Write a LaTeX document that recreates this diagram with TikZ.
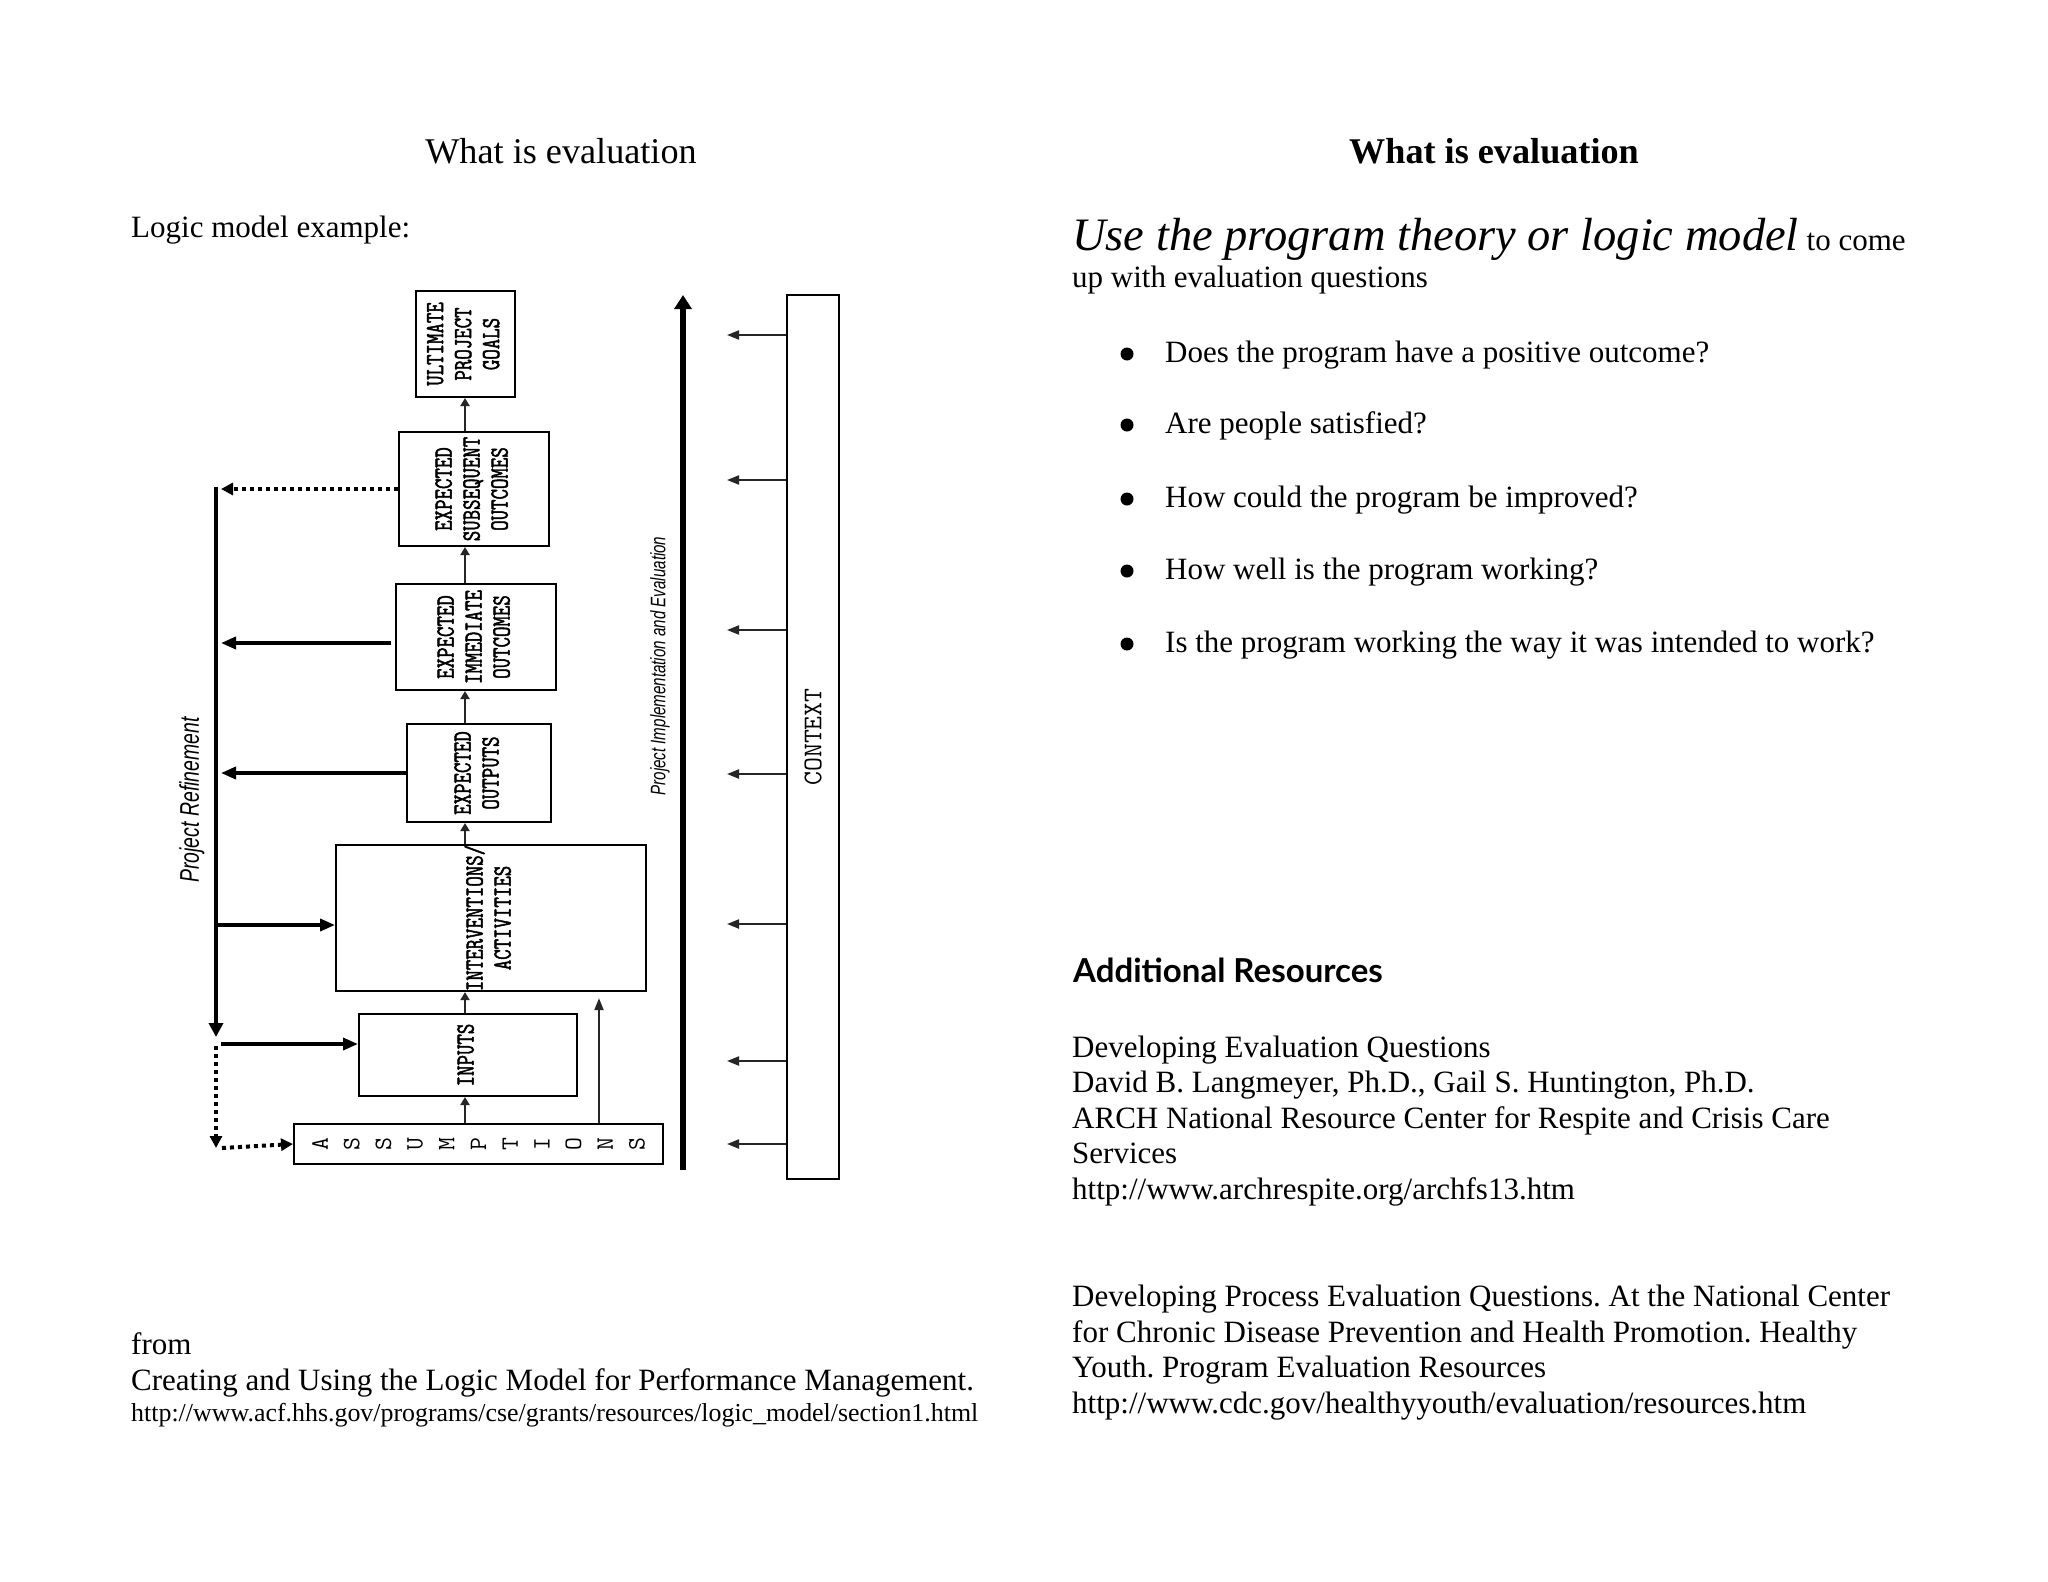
\documentclass[tikz,border=0pt]{standalone}
\usepackage{fontspec}
\setmainfont{Liberation Serif}
\newfontfamily\labfont[FakeStretch=0.72]{Liberation Sans}
\newfontfamily\headfont{Lato}
\newfontfamily\tybox[FakeBold=2.2]{Latin Modern Mono}
\usetikzlibrary{arrows.meta,calc}
\frenchspacing
\newcommand\boxlab[1]{\rotatebox{90}{\scalebox{0.78}[1]{\tybox\fontsize{26}{28}\selectfont\begin{tabular}{@{}c@{}}#1\end{tabular}}}}
\newcommand\rlet[1]{\makebox[31.7pt]{\rotatebox{90}{#1}}}
\begin{document}
\begin{tikzpicture}[x=1pt,y=-1pt,
  lmbox/.style={draw, line width=2pt, inner sep=0pt, fill=white},
  txt/.style={anchor=base west, inner sep=0pt, font=\fontsize{31}{36}\selectfont},
  thinarr/.style={line width=2pt, draw=black!85, -{Triangle[length=12pt,width=9pt]}},
  smallarr/.style={line width=2pt, draw=black!85, -{Triangle[length=8pt,width=9pt]}},
  thickarr/.style={line width=3.5pt, -{Triangle[length=15pt,width=12pt]}},
  dotarr/.style={line width=4pt, dash pattern=on 4pt off 4pt, -{Triangle[length=12pt,width=12pt]}},
  bigarr/.style={line width=6pt, -{Triangle[length=14pt,width=17pt]}},
  bul/.style={circle, fill=black, inner sep=0pt, minimum size=13pt}]
\fill[white] (0,0) rectangle (2048,1582);
\useasboundingbox (0,0) rectangle (2048,1582);

% ---------- left page ----------
\node[anchor=base, inner sep=0pt] (ltitle) at (561,163) {\fontsize{36.2}{40}\selectfont What is evaluation};
\node[txt] (lme) at (131,237) {Logic model example:};

% boxes
\node[lmbox, minimum width=99pt, minimum height=106pt] (goals) at (465.5,344) {\boxlab{ULTIMATE\\PROJECT\\GOALS}};
\node[lmbox, minimum width=150pt, minimum height=114pt] (subseq) at (474,489) {\boxlab{EXPECTED\\SUBSEQUENT\\OUTCOMES}};
\node[lmbox, minimum width=160pt, minimum height=106pt] (immed) at (476,637) {\boxlab{EXPECTED\\IMMEDIATE\\OUTCOMES}};
\node[lmbox, minimum width=144pt, minimum height=98pt] (outputs) at (479,773) {\boxlab{EXPECTED\\OUTPUTS}};
\node[lmbox, minimum width=310pt, minimum height=146pt] (interv) at (491,918) {\boxlab{INTERVENTIONS/\\ACTIVITIES}};
\node[lmbox, minimum width=218pt, minimum height=82pt] (inputs) at (468,1055) {\boxlab{INPUTS}};
\node[lmbox, minimum width=369pt, minimum height=40pt] (assum) at (478.5,1144)
  {\ttfamily\fontsize{25}{25}\selectfont\rlet{A}\rlet{S}\rlet{S}\rlet{U}\rlet{M}\rlet{P}\rlet{T}\rlet{I}\rlet{O}\rlet{N}\rlet{S}};
\node[lmbox, minimum width=52pt, minimum height=884pt] (ctx) at (813,737)
  {\rotatebox{90}{\ttfamily\fontsize{27}{30}\selectfont CONTEXT}};

% vertical arrows between boxes
\coordinate (col) at (465,0);
\coordinate (col2) at (599,0);
\draw[smallarr] (assum.north -| col) -- (inputs.south -| col);
\draw[smallarr] (inputs.north -| col) -- (interv.south -| col);
\draw[smallarr] (interv.north -| col) -- (outputs.south -| col);
\draw[smallarr] (outputs.north -| col) -- (immed.south -| col);
\draw[smallarr] (immed.north -| col) -- (subseq.south -| col);
\draw[smallarr] (subseq.north -| col) -- (goals.south -| col);
\draw[thinarr, shorten >=6pt] (assum.north -| col2) -- (interv.south -| col2);

% project refinement loop
\coordinate (rtop) at (216,489);
\coordinate (rbot) at (216,1037);
\coordinate (dtop) at (216,1046);
\coordinate (dcorner) at (216,1148);
\coordinate (rl) at (221,0);
\draw[dotarr] (subseq.west) -- ([xshift=5pt]rtop);
\draw[line width=4.5pt, -{Triangle[length=14pt,width=14pt]}] ([yshift=2pt]rtop) -- (rbot);
\draw[thickarr, shorten <=4pt] ([yshift=-6pt]immed.west) -- ([yshift=-6pt]immed.west -| rl);
\draw[thickarr] (outputs.west) -- (outputs.west -| rl);
\draw[thickarr] ([yshift=-7pt]interv.west -| rtop) -- ([yshift=-7pt]interv.west);
\draw[thickarr] ([yshift=11pt]inputs.west -| rl) -- ([yshift=11pt]inputs.west);
\draw[dotarr] (dtop) -- (dcorner);
\draw[dotarr] ([xshift=6pt]dcorner) -- (assum.west);
\node[rotate=90, inner sep=0pt] (pref) at (192,800) {\labfont\itshape\fontsize{27}{30}\selectfont Project Refinement};

% implementation and evaluation arrow
\coordinate (pbot) at (683,1170);
\coordinate (ptop) at (683,295);
\draw[bigarr] (pbot) -- (ptop);
\node[rotate=90, inner sep=0pt] (pie) at (660,666) {\labfont\itshape\fontsize{21}{24}\selectfont Project Implementation and Evaluation};

% context arrows
\foreach \yy [count=\i] in {335,480,630,774,924,1061,1144} {
  \coordinate (ca\i) at (727,\yy);
  \draw[thinarr] (ctx.west |- ca\i) -- (ca\i);
}

\node[txt] (from) at (131,1354) {from};
\node[txt] (creat) at (131,1390) {Creating and Using the Logic Model for Performance Management.};
\node[txt, font=\fontsize{25.9}{30}\selectfont] (url1) at (131,1421) {http://www.acf.hhs.gov/programs/cse/grants/resources/logic\_model/section1.html};

% ---------- right page ----------
\node[anchor=base, inner sep=0pt] (rtitle) at (1494,163) {\bfseries\fontsize{36.2}{40}\selectfont What is evaluation};
\node[txt] (use) at (1072,250) {{\fontsize{46.5}{50}\selectfont\itshape Use the program theory or logic model} to come};
\node[txt] (upw) at (1072,287) {up with evaluation questions};

\node[bul] (b1) at (1127,354) {};
\node[txt] (q1) at (1165,362) {Does the program have a positive outcome?};
\node[bul] (b2) at (1127,425) {};
\node[txt] (q2) at (1165,433) {Are people satisfied?};
\node[bul] (b3) at (1127,499) {};
\node[txt] (q3) at (1165,507) {How could the program be improved?};
\node[bul] (b4) at (1127,571) {};
\node[txt] (q4) at (1165,579) {How well is the program working?};
\node[bul] (b5) at (1127,644) {};
\node[txt] (q5) at (1165,652) {Is the program working the way it was intended to work?};

\node[txt, font=\headfont\bfseries\fontsize{33}{36}\selectfont] (addres) at (1073,982) {Additional Resources};

\node[txt] (r1) at (1072,1057) {Developing Evaluation Questions};
\node[txt] (r2) at (1072,1092) {David B. Langmeyer, Ph.D., Gail S. Huntington, Ph.D.};
\node[txt] (r3) at (1072,1128) {ARCH National Resource Center for Respite and Crisis Care};
\node[txt] (r4) at (1072,1163) {Services};
\node[txt] (r5) at (1072,1199) {http://www.archrespite.org/archfs13.htm};

\node[txt] (s1) at (1072,1306) {Developing Process Evaluation Questions. At the National Center};
\node[txt] (s2) at (1072,1342) {for Chronic Disease Prevention and Health Promotion. Healthy};
\node[txt] (s3) at (1072,1377) {Youth. Program Evaluation Resources};
\node[txt] (s4) at (1072,1413) {http://www.cdc.gov/healthyyouth/evaluation/resources.htm};
\end{tikzpicture}
\end{document}
